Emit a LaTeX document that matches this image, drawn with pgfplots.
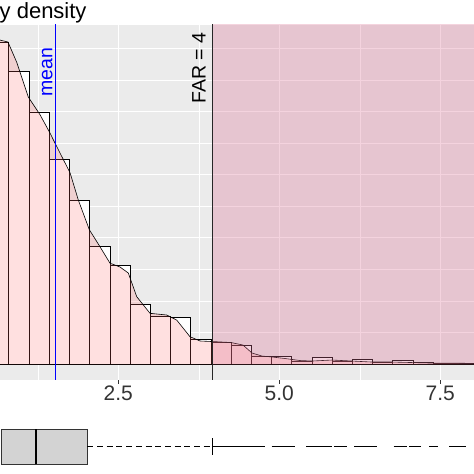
\documentclass[border=0pt]{standalone}
\usepackage{pgfplots}
\pgfplotsset{compat=1.18}
\usepackage{fontspec}
\setmainfont{Liberation Sans}
\definecolor{panelgray}{HTML}{EBEBEB}
\definecolor{densred}{HTML}{FF6666}
\definecolor{farred}{HTML}{DB7093}
\definecolor{boxgray}{HTML}{D3D3D3}
\definecolor{txtgray}{HTML}{333333}
\begin{document}
\begin{tikzpicture}
\useasboundingbox (0,0) rectangle (474pt,474pt);
\begin{axis}[
  at={(0pt,94pt)}, anchor=south west,
  scale only axis, width=474pt, height=355pt,
  xmin=0.663, xmax=8.023, ymin=-0.0248, ymax=0.5369,
  axis background/.style={fill=panelgray},
  axis line style={draw=none},
  xtick={2.5,5,7.5}, xticklabels={2.5,5.0,7.5},
  minor xtick={1.25,3.75,6.25},
  ytick={0,0.1,0.2,0.3,0.4,0.5}, yticklabels={},
  minor ytick={0.05,0.15,0.25,0.35,0.45},
  grid=both,
  major grid style={draw=white, line width=0.9pt},
  minor grid style={draw=white, line width=0.5pt},
  tick align=outside, xtick pos=left,
  major tick length=4pt, minor tick length=0pt,
  xtick style={draw=txtgray, line width=0.6pt},
  ymajorticks=false, yminorticks=false,
  xticklabel style={font=\fontsize{21}{25}\selectfont, text=txtgray, inner sep=2pt},
  /pgf/number format/assume math mode=true,
]
\addplot[ybar interval, fill=white, draw=black, line width=0.7pt] table {
x y
0.486 0.510
0.800 0.463
1.114 0.398
1.427 0.324
1.741 0.260
2.055 0.187
2.369 0.157
2.682 0.095
2.996 0.0753
3.310 0.0737
3.623 0.0396
3.937 0.0342
4.251 0.0305
4.564 0.0120
4.878 0.0131
5.192 0.0052
5.506 0.0104
5.819 0.0041
6.133 0.0084
6.447 0.0032
6.760 0.0057
7.074 0.0032
7.388 0.0021
7.701 0.0013
8.015 0.0010
8.329 0
};
\addplot[draw=none, fill=densred, fill opacity=0.2] table {
x y
0.600 0.522
0.663 0.513
0.787 0.510
0.922 0.478
1.102 0.423
1.284 0.395
1.439 0.366
1.517 0.350
1.751 0.303
1.879 0.260
2.050 0.213
2.216 0.186
2.371 0.160
2.526 0.154
2.655 0.1445
2.786 0.107
2.992 0.0807
3.252 0.078
3.407 0.070
3.613 0.0437
3.769 0.0369
3.950 0.0361
4.250 0.0345
4.436 0.0305
4.576 0.0179
4.731 0.0131
4.887 0.0116
5.089 0.0092
5.322 0.0060
5.508 0.0052
5.818 0.0068
6.129 0.0052
6.439 0.0036
6.750 0.0036
7.060 0.0028
7.371 0.0020
7.681 0.0020
8.100 0.0012
} \closedcycle;
\addplot[black, line width=0.6pt] table {
x y
0.600 0.522
0.663 0.513
0.787 0.510
0.922 0.478
1.102 0.423
1.284 0.395
1.439 0.366
1.517 0.350
1.751 0.303
1.879 0.260
2.050 0.213
2.216 0.186
2.371 0.160
2.526 0.154
2.655 0.1445
2.786 0.107
2.992 0.0807
3.252 0.078
3.407 0.070
3.613 0.0437
3.769 0.0369
3.950 0.0361
4.250 0.0345
4.436 0.0305
4.576 0.0179
4.731 0.0131
4.887 0.0116
5.089 0.0092
5.322 0.0060
5.508 0.0052
5.818 0.0068
6.129 0.0052
6.439 0.0036
6.750 0.0036
7.060 0.0028
7.371 0.0020
7.681 0.0020
8.100 0.0012
};
\addplot[draw=none, fill=farred, fill opacity=0.3] coordinates {(3.96,-0.1) (3.96,0.7) (9,0.7) (9,-0.1)} \closedcycle;
\addplot[blue, line width=0.6pt] coordinates {(1.517,-0.1) (1.517,0.7)};
\addplot[black!85, line width=0.7pt] coordinates {(3.96,-0.1) (3.96,0.7)};
\node[rotate=90, anchor=base, text=blue, inner sep=0pt, font=\fontsize{19.5}{23}\selectfont] at (axis cs:1.478,0.4617) {mean};
\node[rotate=90, anchor=base, text=black, inner sep=0pt, font=\fontsize{19.5}{23}\selectfont] at (axis cs:3.854,0.4684) {FAR = 4};
\end{axis}
\begin{axis}[
  at={(0pt,0pt)}, anchor=south west,
  scale only axis, width=474pt, height=54pt,
  xmin=0.663, xmax=8.023, ymin=0, ymax=54,
  hide axis, clip=true,
]
\addplot[fill=boxgray, draw=txtgray, line width=0.7pt] coordinates {(0.68,9.7) (0.68,44.7) (2.019,44.7) (2.019,9.7) (0.68,9.7)};
\addplot[black, line width=2.2pt] coordinates {(1.222,9.7) (1.222,44.7)};
\addplot[black, line width=0.6pt, dash pattern=on 6pt off 3.7pt] coordinates {(2.019,27.5) (3.966,27.5)};
\addplot[black, line width=0.8pt] coordinates {(3.966,19) (3.966,36)};
\addplot[black, line width=1.3pt, unbounded coords=jump] coordinates {
(3.966,27.5) (4.778,27.5) (4.8,nan)
(4.882,27.5) (5.236,27.5) (5.3,nan)
(5.415,27.5) (5.818,27.5) (5.83,nan)
(5.849,27.5) (6.047,27.5) (6.1,nan)
(6.160,27.5) (6.517,27.5) (6.6,nan)
(6.773,27.5) (6.983,27.5) (7.0,nan)
(7.014,27.5) (7.200,27.5) (7.3,nan)
(7.325,27.5) (7.464,27.5) (7.5,nan)
(7.635,27.5) (7.899,27.5)
};
\end{axis}
\node[anchor=base west, inner sep=0pt, font=\fontsize{22}{26}\selectfont] at (-0.5pt,455.7pt) {y density};
\end{tikzpicture}
\end{document}
